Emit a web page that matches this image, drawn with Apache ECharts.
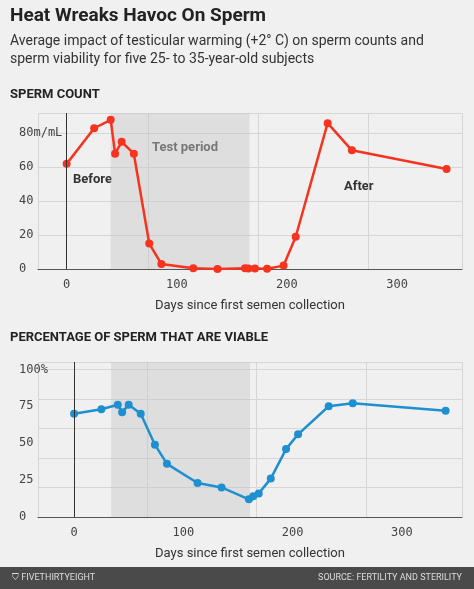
<!DOCTYPE html><html><head><meta charset="utf-8"><script src="https://cdn.jsdelivr.net/npm/echarts@6/dist/echarts.min.js"></script>
<style>html,body{margin:0;background:#f0f0f0}#c{width:474px;height:589px}</style></head><body><div id="c"></div><script>
const countDays=[0,25,40,44,50,61,75,86,115,137,162,165,171,182,197,208,237,259,345];
const countVals=[62,83,88,68,75,68,15,3,0.5,0,0.5,0.3,0.3,0.2,2,19,86,70,59];
const viableDays=[0,25,40,44,50,61,74,85,113,135,160,164,169,180,194,205,233,255,340];
const viableVals=[70,73,76,71,76,70,49,36,23,20,12,14,16,26,46,56,75,77,72];
const countTicks=[0,20,40,60,80];
const viableTicks=[0,25,50,75,100];
const ff='Roboto, "DejaVu Sans", sans-serif';
const mono='"DejaVu Sans Mono", monospace';
function xa(i,min,max){return {type:'value',gridIndex:i,min:min,max:max,interval:100,
 axisLine:{show:true,onZero:false,lineStyle:{color:'#555'}},axisTick:{show:false},
 splitLine:{show:true,lineStyle:{color:'#d6d6d6'}},
 axisLabel:{color:'#444',fontFamily:mono,fontSize:12,margin:10,customValues:[0,100,200,300]},
 name:'Days since first semen collection',nameLocation:'middle',nameGap:30,nameTextStyle:{color:'#333',fontSize:13,fontFamily:ff}};}
function ya(i,max,fmt){return {type:'value',gridIndex:i,min:0,max:max,
 axisLine:{show:false},axisTick:{show:false},splitLine:{lineStyle:{color:'#d6d6d6'}},
 axisLabel:{color:'#444',fontFamily:mono,fontSize:12,align:'left',margin:19,customValues:i?viableTicks:countTicks,formatter:fmt}};}
const chart=echarts.init(document.getElementById('c'));
chart.setOption({backgroundColor:'#f0f0f0',animation:false,
grid:[{left:38,right:12,top:113,bottom:320},{left:38,right:12,top:362,bottom:72}],
xAxis:[xa(0,-26,359),xa(1,-33,355)],
yAxis:[ya(0,92,v=>v===80?'80m/mL':v),ya(1,105,v=>v===100?'100%':v)],
series:[
{type:'line',xAxisIndex:0,yAxisIndex:0,data:countDays.map((d,i)=>[d,countVals[i]]),color:'#f5331e',lineStyle:{width:2.5},symbol:'circle',symbolSize:8,
 markArea:{silent:true,itemStyle:{color:'rgba(200,200,200,0.45)'},data:[[{xAxis:40},{xAxis:166}]]},
 markLine:{silent:true,symbol:'none',label:{show:false},lineStyle:{color:'#333',type:'solid',width:1},data:[{xAxis:0}]}},
{type:'line',xAxisIndex:1,yAxisIndex:1,data:viableDays.map((d,i)=>[d,viableVals[i]]),color:'#1e8fd0',lineStyle:{width:2.5},symbol:'circle',symbolSize:8,
 markArea:{silent:true,itemStyle:{color:'rgba(200,200,200,0.45)'},data:[[{xAxis:34},{xAxis:161}]]},
 markLine:{silent:true,symbol:'none',label:{show:false},lineStyle:{color:'#333',type:'solid',width:1},data:[{xAxis:0}]}}
],
graphic:[
{type:'text',left:10,top:7,style:{text:'Heat Wreaks Havoc On Sperm',font:'bold 19px '+ff,fill:'#222'}},
{type:'text',left:10,top:32,style:{text:'Average impact of testicular warming (+2° C) on sperm counts and\nsperm viability for five 25- to 35-year-old subjects',font:'14px '+ff,fill:'#333',lineHeight:18}},
{type:'text',left:10,top:88,style:{text:'SPERM COUNT',font:'bold 13px '+ff,fill:'#222'}},
{type:'text',left:10,top:331,style:{text:'PERCENTAGE OF SPERM THAT ARE VIABLE',font:'bold 13px '+ff,fill:'#222'}},
{type:'text',left:73,top:173,style:{text:'Before',font:'bold 13px '+ff,fill:'#333'}},
{type:'text',left:152,top:141,style:{text:'Test period',font:'bold 13px '+ff,fill:'#333'}},
{type:'text',left:344,top:180,style:{text:'After',font:'bold 13px '+ff,fill:'#333'}},
{type:'rect',left:0,top:567,shape:{width:474,height:22},style:{fill:'#4a4a4a'}},
{type:'text',left:12,top:573,style:{text:'⛉ FIVETHIRTYEIGHT',font:'9px '+ff,fill:'#ddd'}},
{type:'text',right:12,top:573,style:{text:'SOURCE: FERTILITY AND STERILITY',font:'9px '+ff,fill:'#ddd'}}
]});
</script></body></html>
